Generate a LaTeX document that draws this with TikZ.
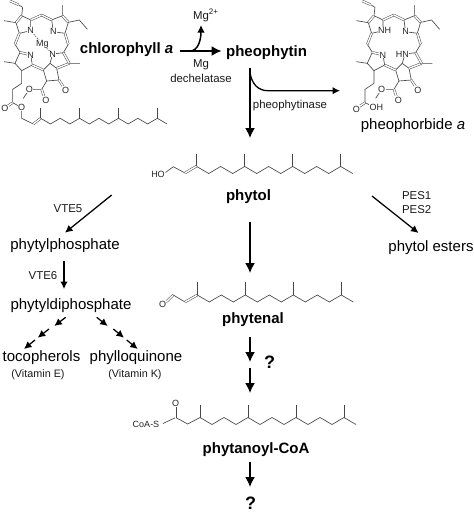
\documentclass[tikz,border=0pt]{standalone}
\usepackage{fontspec}
\setmainfont{Liberation Sans}
\usetikzlibrary{arrows.meta}
\newcommand{\fs}[1]{\fontsize{#1}{#1}\selectfont}
\tikzset{
  x=1pt,y=-1pt,
  bond/.style={draw=black!72,line width=.65pt,line join=round},
  dbond/.style={draw=black!72,line width=.5pt,double=white,double distance=1.4pt},
  atom/.style={font=\fs{9},text=black!85,inner sep=.4pt,fill=white},
  title/.style={font=\fs{15}\bfseries,inner sep=0pt},
  plain/.style={font=\fs{15},inner sep=0pt},
  small/.style={font=\fs{11.4},inner sep=0pt,text=black!90},
  big/.style={line width=1.5pt,-{Latex[length=10pt,width=10pt]}},
  mid/.style={line width=1.25pt,-{Latex[length=7.5pt,width=7.5pt]}}
}
% isoprenoid tail, starting on a branch carbon
\newcommand{\tailchain}[3]{%
  \begin{scope}[shift={(#1,#2)},scale=#3]
    \draw[bond] (0,0)--(12,7)--(24,0)--(36,7)--(48,0)--(60,7)--(72,0)--(84,7)--(96,0)--(108,7)--(120,0)--(132,7)--(144,0)--(156,7);
    \draw[bond] (48,0)--(48,-13) (96,0)--(96,-13) (144,0)--(144,-13);
  \end{scope}}
% the shared macrocycle, coordinates as read on a 3x crop
\newcommand{\macrocycle}{%
  \coordinate (a1) at (65,47); \coordinate (a2) at (92,60); \coordinate (a3) at (92,92);
  \coordinate (a4) at (58,100); \coordinate (a5) at (48,68);
  \coordinate (mt) at (125,45);
  \coordinate (b1) at (187,47); \coordinate (b2) at (155,60); \coordinate (b3) at (160,95);
  \coordinate (b4) at (195,100); \coordinate (b5) at (205,67);
  \coordinate (ml) at (45,133); \coordinate (mr) at (205,133);
  \coordinate (c1) at (92,165); \coordinate (c2) at (60,157); \coordinate (c3) at (45,190);
  \coordinate (c4) at (65,212); \coordinate (c5) at (97,195);
  \coordinate (d1) at (158,162); \coordinate (d2) at (190,158); \coordinate (d3) at (208,190);
  \coordinate (d4) at (170,205); \coordinate (d5) at (150,190);
  \coordinate (mb) at (130,210);
  \coordinate (i1) at (177,240); \coordinate (i2) at (140,243);
  \coordinate (e1) at (125,268); \coordinate (e2) at (88,268);
  \coordinate (p1) at (65,250); \coordinate (p2) at (38,268); \coordinate (p3) at (38,308);
  \draw[bond] (a5)--(a4)--(a3)--(a2)--(a1) (b1)--(b2)--(b3)--(b4)--(b5)--(b1)
    (c1)--(c5)--(c4)--(c3)--(c2) (d1)--(d5)--(d4)--(d3)--(d2)--(d1)
    (mb)--(d5) (mb)--(i2)--(i1)--(d4) (b4)--(mr)--(d2)
    (a4)--(ml)--(c2) (a2)--(mt)--(b2);
  \draw[dbond] (a1)--(a5);
  \draw[dbond] (a2)--(mt);
  \draw[dbond] (mt)--(b2);
  \draw[dbond] (b1)--(b5);
  \draw[dbond] (a4)--(ml);
  \draw[dbond] (b4)--(mr);
  \draw[dbond] (c2)--(c1);
  \draw[dbond] (c5)--(mb);
  \draw[dbond] (d3)--(d4);
  \draw[dbond] (d2)--(d3);
  \draw[bond] (a1)--(68,22)--(55,14) (a5)--(12,62) (b1)--(187,15) (b5)--(238,60)--(262,88)
    (c3)--(12,185) (d3)--(240,190) (c4)--(p1)--(p2)--(p3)
    (i2)--(e1)--(e2)--(70,295);
  \draw[dbond] (55,14)--(30,3);
  \draw[dbond] (i1)--(195,268);
  \draw[dbond] (e1)--(135,298);
  \draw[dbond] (p3)--(20,320);
}
\begin{document}
\begin{tikzpicture}
\useasboundingbox (0,0) rectangle (474,517);
\fill[white] (0,0) rectangle (474,517);

% chlorophyll a
\begin{scope}[scale=1/3]
  \macrocycle
  \draw[bond,dash pattern=on 1.2pt off 1.2pt] (a3)--(127,132)--(d1);
  \draw[bond] (p3)--(65,323)--(65,355)--(100,372);
  \draw[dbond] (100,372)--(122,355);
  \draw[bond] (122,355)--(122,323);
  \node[atom] (chlN1) at (a3) {N};
  \node[atom] (chlN2) at (b3) {N};
  \node[atom] (chlN3) at (c1) {N};
  \node[atom] (chlN4) at (d1) {N};
  \node[atom] (chlMg) at (127,132) {Mg};
  \node[atom] (chlO1) at (197,270) {O};
  \node[atom] (chlO2) at (138,300) {O};
  \node[atom] (chlO3) at (e2) {O};
  \node[atom] (chlO4) at (15,325) {O};
  \node[atom] (chlO5) at (65,323) {O};
\end{scope}
\tailchain{40.7}{118.3}{.81}

% pheophorbide a
\begin{scope}[shift={(352.3,0)},scale=1/3]
  \macrocycle
  \draw[bond] (p3)--(70,323);
  \node[atom] (phoN1) at (97,92) {NH};
  \node[atom] (phoN2) at (b3) {N};
  \node[atom] (phoN3) at (c1) {N};
  \node[atom] (phoN4) at (150,162) {HN};
  \node[atom] (phoO1) at (197,270) {O};
  \node[atom] (phoO2) at (138,300) {O};
  \node[atom] (phoO3) at (e2) {O};
  \node[atom] (phoO4) at (12,327) {O};
  \node[atom] (phoO5) at (72,323) {OH};
\end{scope}

% phytol
\draw[bond] (165.5,172.5)--(173.3,166.7)--(185,173);
\draw[dbond] (185,173)--(196.7,166);
\tailchain{196.7}{166.5}{1}
\draw[bond] (196.7,166)--(196.7,153.5);
\node[atom] (ho) at (158,174) {HO};

% phytenal
\draw[dbond] (166,302)--(173.3,295);
\draw[bond] (173.3,295)--(185,302);
\draw[dbond] (185,302)--(197.3,295);
\tailchain{197.3}{295}{1}
\draw[bond] (197.3,295)--(197.3,282);
\node[atom] (oal) at (162.5,304) {O};

% phytanoyl-CoA
\node[atom] (coas) at (146,424.5) {CoA-S};
\draw[bond] (163,423.5)--(175.7,417.5)--(187.7,424)--(200,417.5);
\draw[dbond] (175.7,417.5)--(175.7,407);
\tailchain{200}{417.5}{1}
\draw[bond] (200,417.5)--(200,404.5);
\node[atom] (ocoa) at (175.7,403) {O};

% labels
\node[title] (chl) at (126.6,50) {chlorophyll \textit{a}};
\node[title] (pheo) at (266.5,53) {pheophytin};
\node[small] (mg) at (205.5,15) {Mg\raisebox{5pt}{\fs{8}2+}};
\node[small] (mgd1) at (201,64.5) {Mg};
\node[small] (mgd2) at (201,78) {dechelatase};
\node[small] (pase) at (290,106) {pheophytinase};
\node[plain] (pho) at (413,126) {pheophorbide \textit{a}};
\node[title] (phytol) at (248.5,197) {phytol};
\node[title] (phytenal) at (253,320) {phytenal};
\node[title] (coa) at (256,450) {phytanoyl-CoA};
\node[font=\fs{18}\bfseries,inner sep=0pt] (q1) at (269.5,362) {?};
\node[font=\fs{18}\bfseries,inner sep=0pt] (q2) at (250.7,503) {?};
\node[plain] (est) at (431,248) {phytol esters};
\node[small] (pes1) at (416.7,196) {PES1};
\node[small] (pes2) at (416.7,210) {PES2};
\node[small] (vte5) at (68,209) {VTE5};
\node[small] (vte6) at (43,276) {VTE6};
\node[plain] (pp) at (65,246) {phytylphosphate};
\node[plain] (ppp) at (71,306) {phytyldiphosphate};
\node[plain] (toc) at (41.5,358) {tocopherols};
\node[plain] (phq) at (136,358) {phylloquinone};
\node[small,font=\fs{10.8}] (vite) at (38,375) {(Vitamin E)};
\node[small,font=\fs{10.8}] (vitk) at (135,375) {(Vitamin K)};

% connector ends
\coordinate (s1) at (180,51); \coordinate (t1) at (221.5,51);
\coordinate (s2) at (190,51); \coordinate (t2) at (201,25);
\coordinate (s3) at (250,68); \coordinate (t3) at (250,138);
\coordinate (s4) at (250,73); \coordinate (t4) at (340,90.7);
\coordinate (s5) at (250,222); \coordinate (t5) at (250,273);
\coordinate (s6) at (250,337); \coordinate (t6) at (250,362);
\coordinate (s7) at (250,368); \coordinate (t7) at (250,393);
\coordinate (s8) at (250,462); \coordinate (t8) at (250,487);
\coordinate (s9) at (111.7,195); \coordinate (t9) at (65,232.7);
\coordinate (s10) at (64,260.7); \coordinate (t10) at (64,289);
\coordinate (s11) at (372,196); \coordinate (t11) at (418.5,233);

% connectors
\draw[big] (s1)--(t1);
\draw[mid,line width=1.5pt] (s2) .. controls (198,51) and (201,40) .. (t2);
\draw[big] (s3)--(t3);
\draw[mid,line width=1.3pt] (s4) .. controls (252,84) and (258,90.7) .. (268,90.7) -- (t4);
\draw[big] (s5)--(t5);
\draw[big] (s6)--(t6);
\draw[big] (s7)--(t7);
\draw[big] (s8)--(t8);
\draw[mid] (s9)--(t9);
\draw[mid] (s10)--(t10);
\draw[mid] (s11)--(t11);

\coordinate (la) at (65.7,317.3); \coordinate (lb) at (54.3,326);
\coordinate (lc) at (49,329); \coordinate (ld) at (37.7,337.7);
\coordinate (le) at (35,340); \coordinate (lf) at (24,349);
\coordinate (ra) at (96.7,317.3); \coordinate (rb) at (107.7,326);
\coordinate (rc) at (113.3,329); \coordinate (rd) at (124,337.7);
\coordinate (re) at (126.7,340); \coordinate (rf) at (137.7,349);
\draw[mid] (la)--(lb);
\draw[mid] (lc)--(ld);
\draw[mid] (le)--(lf);
\draw[mid] (ra)--(rb);
\draw[mid] (rc)--(rd);
\draw[mid] (re)--(rf);
\end{tikzpicture}
\end{document}
